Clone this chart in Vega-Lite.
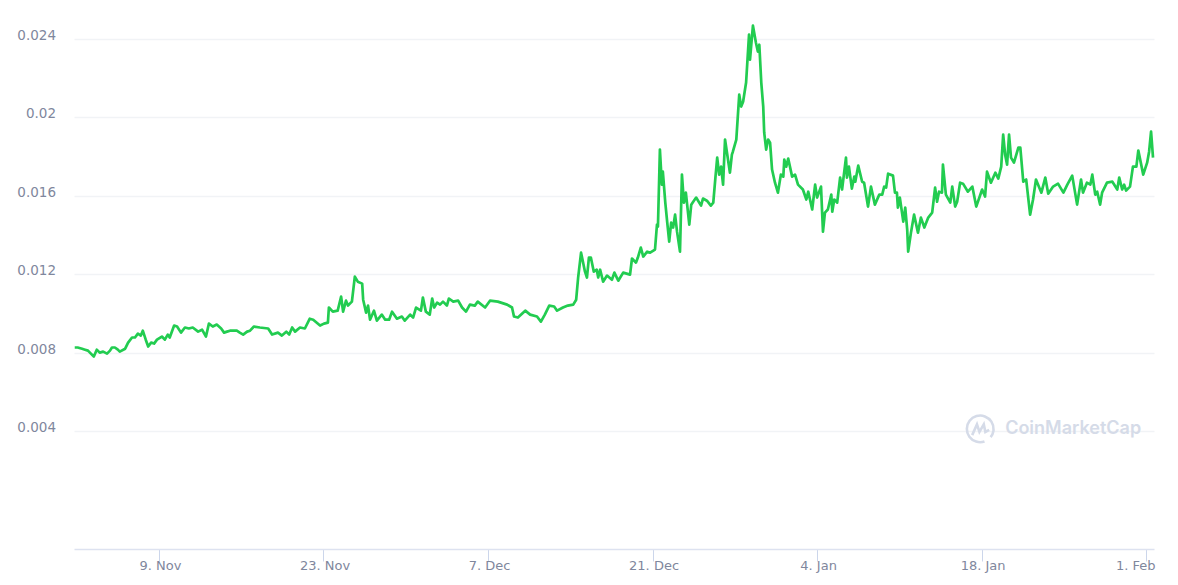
{
  "$schema": "https://vega.github.io/schema/vega-lite/v6.json",
  "width": 1080,
  "height": 529,
  "autosize": "none",
  "padding": {"left": 74, "right": 24, "top": 20, "bottom": 36},
  "background": "#ffffff",
  "datasets": {
    "prices": [
      {"t":"2021-11-01T20:00","p":0.00826},{"t":"2021-11-02T02:00","p":0.00826},{"t":"2021-11-02T11:00","p":0.0082},{"t":"2021-11-02T17:00","p":0.00815},{"t":"2021-11-02T23:00","p":0.0081},{"t":"2021-11-03T05:00","p":0.00795},{"t":"2021-11-03T11:00","p":0.0078},{"t":"2021-11-03T17:00","p":0.00815},{"t":"2021-11-03T23:00","p":0.008},{"t":"2021-11-04T06:00","p":0.00805},{"t":"2021-11-04T14:00","p":0.00795},{"t":"2021-11-04T20:00","p":0.0081},{"t":"2021-11-05T00:00","p":0.00826},{"t":"2021-11-05T06:00","p":0.00826},{"t":"2021-11-05T12:00","p":0.00815},{"t":"2021-11-05T16:00","p":0.00805},{"t":"2021-11-06T03:00","p":0.0082},{"t":"2021-11-06T09:00","p":0.00851},{"t":"2021-11-06T17:00","p":0.00877},{"t":"2021-11-06T23:00","p":0.00877},{"t":"2021-11-07T05:00","p":0.00897},{"t":"2021-11-07T11:00","p":0.00887},{"t":"2021-11-07T15:00","p":0.00912},{"t":"2021-11-07T21:00","p":0.00866},{"t":"2021-11-08T02:00","p":0.00831},{"t":"2021-11-08T08:00","p":0.00851},{"t":"2021-11-08T14:00","p":0.00846},{"t":"2021-11-08T20:00","p":0.00866},
      {"t":"2021-11-09T06:00","p":0.00882},{"t":"2021-11-09T12:00","p":0.00866},{"t":"2021-11-09T18:00","p":0.00892},{"t":"2021-11-09T22:00","p":0.00877},{"t":"2021-11-10T07:00","p":0.00938},{"t":"2021-11-10T13:00","p":0.00933},{"t":"2021-11-10T21:00","p":0.00902},{"t":"2021-11-11T05:00","p":0.00928},{"t":"2021-11-11T13:00","p":0.00923},{"t":"2021-11-11T21:00","p":0.00928},{"t":"2021-11-12T08:00","p":0.00907},{"t":"2021-11-12T16:00","p":0.00917},{"t":"2021-11-13T00:00","p":0.00882},{"t":"2021-11-13T06:00","p":0.00948},{"t":"2021-11-13T14:00","p":0.00933},{"t":"2021-11-13T22:00","p":0.00943},{"t":"2021-11-14T07:00","p":0.00923},{"t":"2021-11-14T13:00","p":0.00902},{"t":"2021-11-14T19:00","p":0.00907},{"t":"2021-11-15T01:00","p":0.00912},{"t":"2021-11-15T15:00","p":0.00912},{"t":"2021-11-15T21:00","p":0.00902},{"t":"2021-11-16T04:00","p":0.00892},{"t":"2021-11-16T12:00","p":0.00907},{"t":"2021-11-16T18:00","p":0.00912},{"t":"2021-11-17T02:00","p":0.00933},{"t":"2021-11-17T14:00","p":0.00928},{"t":"2021-11-18T07:00","p":0.00923},{"t":"2021-11-18T15:00","p":0.00892},{"t":"2021-11-19T03:00","p":0.00902},{"t":"2021-11-19T11:00","p":0.00887},{"t":"2021-11-19T20:00","p":0.00907},{"t":"2021-11-20T02:00","p":0.00892},{"t":"2021-11-20T08:00","p":0.00928},{"t":"2021-11-20T14:00","p":0.00907},{"t":"2021-11-21T00:00","p":0.00928},{"t":"2021-11-21T10:00","p":0.00923},{"t":"2021-11-21T20:00","p":0.00973},{"t":"2021-11-22T03:00","p":0.00968},{"t":"2021-11-22T17:00","p":0.00938},
      {"t":"2021-11-23T01:00","p":0.00948},{"t":"2021-11-23T09:00","p":0.00953},{"t":"2021-11-23T11:00","p":0.0103},{"t":"2021-11-23T19:00","p":0.01009},{"t":"2021-11-24T05:00","p":0.01014},{"t":"2021-11-24T12:00","p":0.01086},{"t":"2021-11-24T16:00","p":0.01009},{"t":"2021-11-24T22:00","p":0.01065},{"t":"2021-11-25T02:00","p":0.0104},{"t":"2021-11-25T10:00","p":0.0106},{"t":"2021-11-25T16:00","p":0.01188},{"t":"2021-11-25T22:00","p":0.01162},{"t":"2021-11-26T07:00","p":0.01152},{"t":"2021-11-26T09:00","p":0.0107},{"t":"2021-11-26T15:00","p":0.01004},{"t":"2021-11-26T19:00","p":0.0104},{"t":"2021-11-26T23:00","p":0.00968},{"t":"2021-11-27T07:00","p":0.01014},{"t":"2021-11-27T13:00","p":0.00963},{"t":"2021-11-27T23:00","p":0.00994},{"t":"2021-11-28T06:00","p":0.00968},{"t":"2021-11-28T14:00","p":0.00968},{"t":"2021-11-28T20:00","p":0.01009},{"t":"2021-11-29T06:00","p":0.00973},{"t":"2021-11-29T16:00","p":0.00984},{"t":"2021-11-29T22:00","p":0.00963},{"t":"2021-11-30T09:00","p":0.00994},{"t":"2021-11-30T15:00","p":0.00979},{"t":"2021-11-30T21:00","p":0.0103},{"t":"2021-12-01T07:00","p":0.01014},{"t":"2021-12-01T11:00","p":0.01081},{"t":"2021-12-01T17:00","p":0.01009},{"t":"2021-12-02T01:00","p":0.00994},{"t":"2021-12-02T06:00","p":0.01076},{"t":"2021-12-02T10:00","p":0.0103},{"t":"2021-12-02T16:00","p":0.01055},{"t":"2021-12-02T22:00","p":0.01045},{"t":"2021-12-03T04:00","p":0.0106},{"t":"2021-12-03T12:00","p":0.0104},{"t":"2021-12-03T16:00","p":0.01076},{"t":"2021-12-04T01:00","p":0.0106},{"t":"2021-12-04T11:00","p":0.01065},{"t":"2021-12-04T19:00","p":0.0103},{"t":"2021-12-05T03:00","p":0.01009},{"t":"2021-12-05T11:00","p":0.01045},{"t":"2021-12-05T21:00","p":0.0104},{"t":"2021-12-06T03:00","p":0.0106},{"t":"2021-12-06T18:00","p":0.0103},
      {"t":"2021-12-07T04:00","p":0.01065},{"t":"2021-12-07T20:00","p":0.0106},{"t":"2021-12-08T15:00","p":0.01045},{"t":"2021-12-09T01:00","p":0.0103},{"t":"2021-12-09T05:00","p":0.00984},{"t":"2021-12-09T13:00","p":0.00979},{"t":"2021-12-10T04:00","p":0.01014},{"t":"2021-12-10T14:00","p":0.00994},{"t":"2021-12-11T04:00","p":0.00984},{"t":"2021-12-11T12:00","p":0.00958},{"t":"2021-12-11T20:00","p":0.00994},{"t":"2021-12-12T05:00","p":0.0104},{"t":"2021-12-12T15:00","p":0.01035},{"t":"2021-12-12T21:00","p":0.01014},{"t":"2021-12-13T09:00","p":0.0103},{"t":"2021-12-13T19:00","p":0.0104},{"t":"2021-12-14T06:00","p":0.01045},{"t":"2021-12-14T12:00","p":0.0107},{"t":"2021-12-14T16:00","p":0.01183},{"t":"2021-12-14T22:00","p":0.0131},{"t":"2021-12-15T06:00","p":0.01213},{"t":"2021-12-15T10:00","p":0.01183},{"t":"2021-12-15T14:00","p":0.01285},{"t":"2021-12-15T18:00","p":0.01285},{"t":"2021-12-16T00:00","p":0.01213},{"t":"2021-12-16T06:00","p":0.01223},{"t":"2021-12-16T09:00","p":0.01183},{"t":"2021-12-16T13:00","p":0.01223},{"t":"2021-12-16T19:00","p":0.01162},{"t":"2021-12-17T03:00","p":0.01193},{"t":"2021-12-17T13:00","p":0.01172},{"t":"2021-12-17T18:00","p":0.01208},{"t":"2021-12-18T02:00","p":0.01167},{"t":"2021-12-18T12:00","p":0.01208},{"t":"2021-12-19T02:00","p":0.01198},{"t":"2021-12-19T06:00","p":0.0128},{"t":"2021-12-19T14:00","p":0.01259},{"t":"2021-12-19T18:00","p":0.01285},{"t":"2021-12-20T00:00","p":0.01336},{"t":"2021-12-20T05:00","p":0.0129},{"t":"2021-12-20T13:00","p":0.01315},{"t":"2021-12-20T19:00","p":0.0131},
      {"t":"2021-12-21T05:00","p":0.01326},{"t":"2021-12-21T09:00","p":0.01453},{"t":"2021-12-21T11:00","p":0.01443},{"t":"2021-12-21T15:00","p":0.01836},{"t":"2021-12-21T19:00","p":0.01657},{"t":"2021-12-21T21:00","p":0.01723},{"t":"2021-12-22T02:00","p":0.01565},{"t":"2021-12-22T06:00","p":0.01463},{"t":"2021-12-22T10:00","p":0.01366},{"t":"2021-12-22T14:00","p":0.01463},{"t":"2021-12-22T18:00","p":0.01438},{"t":"2021-12-22T22:00","p":0.01504},{"t":"2021-12-23T02:00","p":0.01417},{"t":"2021-12-23T08:00","p":0.01315},{"t":"2021-12-23T12:00","p":0.01708},{"t":"2021-12-23T16:00","p":0.01565},{"t":"2021-12-23T20:00","p":0.01616},{"t":"2021-12-24T03:00","p":0.01453},{"t":"2021-12-24T07:00","p":0.01555},{"t":"2021-12-24T11:00","p":0.0157},{"t":"2021-12-24T17:00","p":0.01591},{"t":"2021-12-25T03:00","p":0.0155},{"t":"2021-12-25T07:00","p":0.01586},{"t":"2021-12-25T15:00","p":0.01575},{"t":"2021-12-25T23:00","p":0.0155},{"t":"2021-12-26T04:00","p":0.01565},{"t":"2021-12-26T08:00","p":0.01683},{"t":"2021-12-26T12:00","p":0.01795},{"t":"2021-12-26T16:00","p":0.01708},{"t":"2021-12-26T20:00","p":0.01749},{"t":"2021-12-27T00:00","p":0.01657},{"t":"2021-12-27T04:00","p":0.01887},{"t":"2021-12-27T08:00","p":0.0182},{"t":"2021-12-27T14:00","p":0.01718},{"t":"2021-12-27T18:00","p":0.0181},{"t":"2021-12-27T20:00","p":0.01825},{"t":"2021-12-28T03:00","p":0.01887},{"t":"2021-12-28T09:00","p":0.02116},{"t":"2021-12-28T13:00","p":0.02055},{"t":"2021-12-28T17:00","p":0.02081},{"t":"2021-12-28T23:00","p":0.02178},{"t":"2021-12-29T05:00","p":0.02422},{"t":"2021-12-29T07:00","p":0.02295},{"t":"2021-12-29T11:00","p":0.02412},{"t":"2021-12-29T13:00","p":0.02468},{"t":"2021-12-29T19:00","p":0.02382},{"t":"2021-12-29T23:00","p":0.02336},{"t":"2021-12-30T02:00","p":0.02371},{"t":"2021-12-30T06:00","p":0.02178},{"t":"2021-12-30T10:00","p":0.02055},{"t":"2021-12-30T12:00","p":0.01922},{"t":"2021-12-30T16:00","p":0.01836},{"t":"2021-12-30T20:00","p":0.01887},{"t":"2021-12-31T00:00","p":0.01871},{"t":"2021-12-31T04:00","p":0.01734},{"t":"2021-12-31T10:00","p":0.01667},{"t":"2021-12-31T16:00","p":0.01616},{"t":"2021-12-31T22:00","p":0.01708},
      {"t":"2022-01-01T03:00","p":0.01698},{"t":"2022-01-01T05:00","p":0.01785},{"t":"2022-01-01T09:00","p":0.01749},{"t":"2022-01-01T13:00","p":0.0179},{"t":"2022-01-01T21:00","p":0.01698},{"t":"2022-01-02T03:00","p":0.01708},{"t":"2022-01-02T09:00","p":0.01657},{"t":"2022-01-02T19:00","p":0.01632},{"t":"2022-01-03T02:00","p":0.01581},{"t":"2022-01-03T06:00","p":0.01621},{"t":"2022-01-03T14:00","p":0.0153},{"t":"2022-01-03T20:00","p":0.01657},{"t":"2022-01-04T00:00","p":0.01591},{"t":"2022-01-04T08:00","p":0.01647},{"t":"2022-01-04T12:00","p":0.01417},{"t":"2022-01-04T16:00","p":0.01514},{"t":"2022-01-04T22:00","p":0.0153},{"t":"2022-01-05T05:00","p":0.01606},{"t":"2022-01-05T07:00","p":0.01519},{"t":"2022-01-05T11:00","p":0.01581},{"t":"2022-01-05T17:00","p":0.01565},{"t":"2022-01-05T23:00","p":0.01693},{"t":"2022-01-06T03:00","p":0.01632},{"t":"2022-01-06T11:00","p":0.01795},{"t":"2022-01-06T13:00","p":0.01693},{"t":"2022-01-06T17:00","p":0.01749},{"t":"2022-01-06T23:00","p":0.01637},{"t":"2022-01-07T04:00","p":0.01698},{"t":"2022-01-07T06:00","p":0.01672},{"t":"2022-01-07T12:00","p":0.01754},{"t":"2022-01-07T20:00","p":0.01672},{"t":"2022-01-08T00:00","p":0.01667},{"t":"2022-01-08T08:00","p":0.01545},{"t":"2022-01-08T14:00","p":0.01647},{"t":"2022-01-08T22:00","p":0.01555},{"t":"2022-01-09T07:00","p":0.01606},{"t":"2022-01-09T13:00","p":0.01606},{"t":"2022-01-09T17:00","p":0.01647},{"t":"2022-01-09T21:00","p":0.01642},{"t":"2022-01-10T01:00","p":0.01713},{"t":"2022-01-10T11:00","p":0.01703},{"t":"2022-01-10T15:00","p":0.01616},{"t":"2022-01-10T19:00","p":0.01616},{"t":"2022-01-10T21:00","p":0.0154},{"t":"2022-01-11T01:00","p":0.01591},{"t":"2022-01-11T08:00","p":0.01468},{"t":"2022-01-11T12:00","p":0.0154},{"t":"2022-01-11T16:00","p":0.01428},{"t":"2022-01-11T18:00","p":0.01315},
      {"t":"2022-01-12T00:00","p":0.01417},{"t":"2022-01-12T06:00","p":0.01504},{"t":"2022-01-12T14:00","p":0.01412},{"t":"2022-01-12T20:00","p":0.01489},{"t":"2022-01-13T03:00","p":0.01438},{"t":"2022-01-13T11:00","p":0.01489},{"t":"2022-01-13T19:00","p":0.01514},{"t":"2022-01-14T01:00","p":0.01642},{"t":"2022-01-14T05:00","p":0.0157},{"t":"2022-01-14T09:00","p":0.01621},{"t":"2022-01-14T15:00","p":0.01616},{"t":"2022-01-14T17:00","p":0.01759},{"t":"2022-01-14T23:00","p":0.01606},{"t":"2022-01-15T08:00","p":0.01565},{"t":"2022-01-15T12:00","p":0.01647},{"t":"2022-01-15T18:00","p":0.01545},{"t":"2022-01-15T22:00","p":0.0157},{"t":"2022-01-16T04:00","p":0.01667},{"t":"2022-01-16T10:00","p":0.01662},{"t":"2022-01-16T20:00","p":0.01621},{"t":"2022-01-17T05:00","p":0.01647},{"t":"2022-01-17T13:00","p":0.01545},{"t":"2022-01-18T01:00","p":0.01632},{"t":"2022-01-18T07:00","p":0.01596},{"t":"2022-01-18T11:00","p":0.01723},{"t":"2022-01-18T19:00","p":0.01667},{"t":"2022-01-19T04:00","p":0.01718},{"t":"2022-01-19T10:00","p":0.01688},{"t":"2022-01-19T16:00","p":0.01749},{"t":"2022-01-19T20:00","p":0.01912},{"t":"2022-01-20T00:00","p":0.0181},{"t":"2022-01-20T04:00","p":0.01759},{"t":"2022-01-20T08:00","p":0.01912},{"t":"2022-01-20T12:00","p":0.01795},{"t":"2022-01-20T18:00","p":0.01769},{"t":"2022-01-21T03:00","p":0.01846},{"t":"2022-01-21T07:00","p":0.01846},{"t":"2022-01-21T13:00","p":0.01672},{"t":"2022-01-21T19:00","p":0.01683},{"t":"2022-01-22T03:00","p":0.01504},{"t":"2022-01-22T09:00","p":0.01581},{"t":"2022-01-22T15:00","p":0.01683},{"t":"2022-01-23T02:00","p":0.01616},{"t":"2022-01-23T10:00","p":0.01693},{"t":"2022-01-23T16:00","p":0.01611},{"t":"2022-01-24T02:00","p":0.01647},{"t":"2022-01-24T12:00","p":0.01662},{"t":"2022-01-24T23:00","p":0.01616},{"t":"2022-01-25T07:00","p":0.01657},{"t":"2022-01-25T17:00","p":0.01703},{"t":"2022-01-26T03:00","p":0.01555},{"t":"2022-01-26T11:00","p":0.01683},{"t":"2022-01-26T15:00","p":0.01616},{"t":"2022-01-26T23:00","p":0.01667},{"t":"2022-01-27T06:00","p":0.01657},{"t":"2022-01-27T10:00","p":0.01708},{"t":"2022-01-27T16:00","p":0.01606},{"t":"2022-01-27T20:00","p":0.01621},{"t":"2022-01-28T02:00","p":0.01555},{"t":"2022-01-28T06:00","p":0.01616},{"t":"2022-01-28T16:00","p":0.01667},{"t":"2022-01-29T03:00","p":0.01672},{"t":"2022-01-29T13:00","p":0.01632},{"t":"2022-01-29T17:00","p":0.01693},{"t":"2022-01-29T23:00","p":0.01632},{"t":"2022-01-30T03:00","p":0.01657},{"t":"2022-01-30T07:00","p":0.01627},{"t":"2022-01-30T15:00","p":0.01647},{"t":"2022-01-30T21:00","p":0.01749},{"t":"2022-01-31T04:00","p":0.01749},{"t":"2022-01-31T08:00","p":0.01831},{"t":"2022-01-31T18:00","p":0.01708},{"t":"2022-02-01T02:00","p":0.01769},{"t":"2022-02-01T06:00","p":0.01825},{"t":"2022-02-01T10:00","p":0.01928},{"t":"2022-02-01T14:00","p":0.01795}
    ],
    "wordmark": [{"t":"2022-01-20T00:00","p":0.0041,"label":"CoinMarketCap"}],
    "logo": [{"t":"2022-01-17T21:00","p":0.0041}]
  },
  "layer": [
    {
      "data": {"name": "prices"},
      "mark": {"type": "line", "color": "#22cc50", "strokeWidth": 2.7, "strokeJoin": "round", "interpolate": "linear"},
      "encoding": {
        "x": {
          "field": "t", "type": "temporal", "title": null,
          "scale": {"domain": ["2021-11-01T18:30", "2022-02-01T16:00"]},
          "axis": {
            "values": ["2021-11-09T00:00", "2021-11-23T00:00", "2021-12-07T00:00", "2021-12-21T00:00", "2022-01-04T00:00", "2022-01-18T00:00", "2022-02-01T00:00"],
            "format": "%-d. %b",
            "grid": false,
            "domainColor": "#dde2f0",
            "domainWidth": 1.5,
            "tickColor": "#ccd6eb",
            "tickSize": 12,
            "labelColor": "#7f879d",
            "labelFont": "DejaVu Sans",
            "labelFontSize": 13,
            "labelPadding": -2,
            "labelFlush": false,
            "labelOverlap": false,
            "labelOffset": {"condition": {"test": "month(datum.value) == 1", "value": -11}, "value": 1}
          }
        },
        "y": {
          "field": "p", "type": "quantitative", "title": null,
          "scale": {"domain": [-0.00202, 0.02497], "nice": false, "zero": false},
          "axis": {
            "values": [0.004, 0.008, 0.012, 0.016, 0.02, 0.024],
            "format": ".3~f",
            "domain": false,
            "ticks": false,
            "grid": true,
            "gridColor": "#f1f3f6",
            "gridWidth": 1.5,
            "labelColor": "#7f879d",
            "labelFont": "DejaVu Sans",
            "labelFontSize": 13.5,
            "labelPadding": 18.5,
            "labelOffset": -3.5
          }
        }
      }
    },
    {
      "data": {"name": "wordmark"},
      "mark": {"type": "text", "align": "left", "baseline": "middle", "font": "Inter", "fontSize": 18, "fontWeight": 600, "color": "#d5dbe8"},
      "encoding": {
        "x": {"field": "t", "type": "temporal"},
        "y": {"field": "p", "type": "quantitative"},
        "text": {"field": "label"}
      }
    },
    {
      "data": {"name": "logo"},
      "mark": {
        "type": "point",
        "filled": false,
        "size": 841,
        "color": "#d5dbe8",
        "strokeWidth": 2.6,
        "opacity": 1,
        "shape": "M0.92,0.05 A0.92,0.92 0 1 0 0.3,0.86 M0.92,0.05 L0.92,0.12 A0.92,0.92 0 0 1 0.72,0.56 M-0.55,0.42 L-0.22,-0.32 L-0.05,0.2 L0.25,-0.32 L0.36,0.2 L0.62,0.06"
      },
      "encoding": {
        "x": {"field": "t", "type": "temporal"},
        "y": {"field": "p", "type": "quantitative"}
      }
    }
  ],
  "config": {"view": {"stroke": null}}
}
